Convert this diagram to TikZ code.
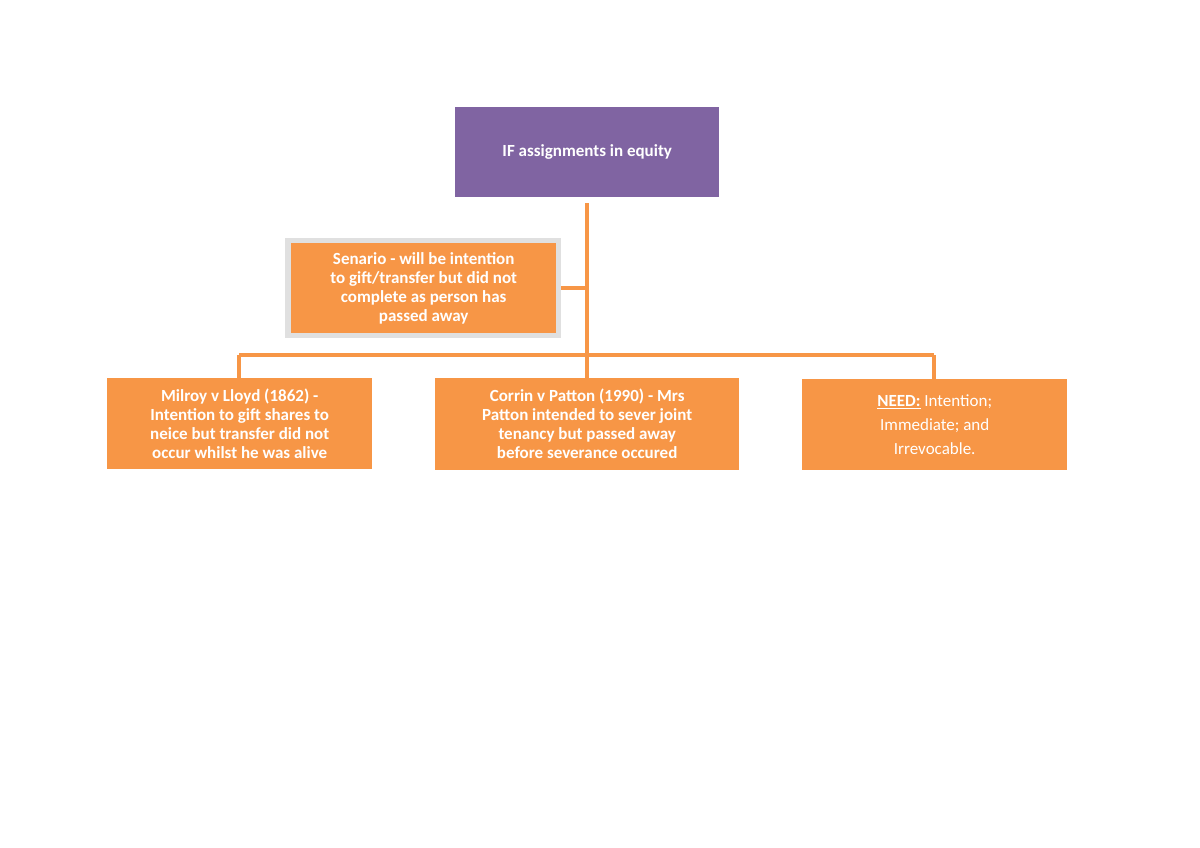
\documentclass[tikz,border=0pt]{standalone}
\usepackage{fontspec}
\setmainfont{Carlito}
\definecolor{org}{HTML}{F79646}
\definecolor{pur}{HTML}{8064A2}
\definecolor{gr}{HTML}{E0E0E0}
\begin{document}
\begin{tikzpicture}[x=1pt,y=-1pt,
  box/.style={fill=org,text=white,font=\fontsize{17}{19}\selectfont\bfseries,align=center,inner sep=0pt,anchor=north west},
  ln/.style={draw=org,line width=4pt}]
\useasboundingbox (0,0) rectangle (1200,848);
\node[box,fill=pur,minimum width=264pt,minimum height=90pt] (top) at (455,107) {IF assignments in equity};
\node[fill=gr,minimum width=276pt,minimum height=100pt,anchor=north west,inner sep=0pt] (sg) at (285,238) {};
\node[box,minimum width=265pt,minimum height=90pt] (sen) at (291,243) {Senario - will be intention\\to gift/transfer but did not\\complete as person has\\passed away};
\node[box,minimum width=265pt,minimum height=91pt] (mil) at (107,378) {Milroy v Lloyd (1862) -\\Intention to gift shares to\\neice but transfer did not\\occur whilst he was alive};
\node[box,minimum width=304pt,minimum height=92pt] (cor) at (435,378) {Corrin v Patton (1990) - Mrs\\Patton intended to sever joint\\tenancy but passed away\\before severance occured};
\node[box,minimum width=265pt,minimum height=91pt,font=\fontsize{17}{24}\selectfont] (need) at (802,379) {\textbf{\underline{NEED:} }Intention;\\Immediate; and\\Irrevocable.};
\coordinate (t) at (587,203);
\coordinate (b) at (587,355);
\coordinate (l) at (239,355);
\coordinate (r) at (934,355);
\coordinate (s) at (587,288);
\draw[ln] (t) -- (b);
\draw[ln] (l) -- (r);
\draw[ln] (sg.east |- s) -- (s);
\draw[ln] (l) -- (l |- mil.north);
\draw[ln] (b) -- (b |- cor.north);
\draw[ln] (r) -- (r |- need.north);
\end{tikzpicture}
\end{document}
